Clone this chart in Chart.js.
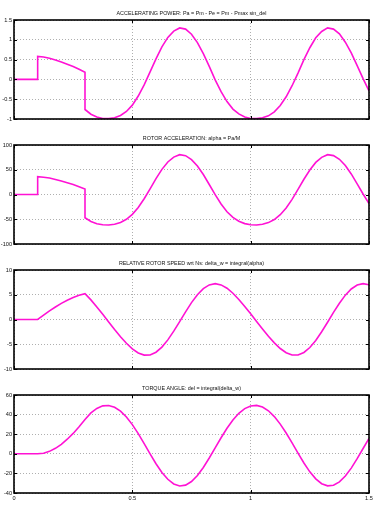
<!DOCTYPE html>
<html><head><meta charset="utf-8">
<script src="https://cdn.jsdelivr.net/npm/chart.js@4.4.1/dist/chart.umd.min.js"></script>
<style>
html,body{margin:0;padding:0;background:#fff;overflow:hidden;}
#wrap{position:relative;width:379px;height:516px;background:#fff;}
.p{position:absolute;left:0;width:379px;}
canvas{display:block;}
</style></head><body>
<div id="wrap">
<div class="p" style="top:0px;height:125px"><canvas id="c0" width="379" height="125"></canvas></div>
<div class="p" style="top:125px;height:125px"><canvas id="c1" width="379" height="125"></canvas></div>
<div class="p" style="top:250px;height:125px"><canvas id="c2" width="379" height="125"></canvas></div>
<div class="p" style="top:375px;height:141px"><canvas id="c3" width="379" height="141"></canvas></div>
</div>
<script>
// time samples (s); 0.1 and 0.3 repeated for the fault-on / fault-clear steps
const time = [0, 0.1, 0.1, 0.125, 0.15, 0.175, 0.2, 0.225, 0.25, 0.275, 0.3, 0.3,
  0.325, 0.35, 0.375, 0.4, 0.425, 0.45, 0.475, 0.5, 0.525, 0.55, 0.575, 0.6,
  0.625, 0.65, 0.675, 0.7, 0.725, 0.75, 0.775, 0.8, 0.825, 0.85, 0.875, 0.9,
  0.925, 0.95, 0.975, 1.0, 1.025, 1.05, 1.075, 1.1, 1.125, 1.15, 1.175, 1.2,
  1.225, 1.25, 1.275, 1.3, 1.325, 1.35, 1.375, 1.4, 1.425, 1.45, 1.475, 1.5];

const accelPower = [0, 0, 0.58, 0.565, 0.535, 0.49, 0.44, 0.385, 0.325, 0.255, 0.18, -0.76,
  -0.88, -0.95, -0.99, -0.99, -0.97, -0.91, -0.81, -0.65, -0.42, -0.14, 0.19, 0.52,
  0.82, 1.06, 1.22, 1.30, 1.27, 1.14, 0.93, 0.65, 0.33, -0.01, -0.31, -0.56,
  -0.75, -0.87, -0.95, -0.99, -0.99, -0.97, -0.92, -0.82, -0.66, -0.44, -0.16, 0.16,
  0.50, 0.80, 1.05, 1.21, 1.30, 1.27, 1.15, 0.94, 0.67, 0.35, 0.02, -0.29];

const rotorAccel = [0, 0, 36.0, 35.0, 33.2, 30.4, 27.3, 23.9, 20.2, 15.8, 11.2, -47.0,
  -54.5, -59.0, -61.2, -61.5, -60.0, -56.4, -50.1, -40.1, -26.2, -8.6, 11.5, 32.1,
  50.8, 65.7, 75.5, 80.5, 78.5, 70.5, 57.6, 40.3, 20.2, -0.3, -19.2, -34.8,
  -46.3, -54.1, -58.8, -61.1, -61.5, -60.2, -56.8, -50.6, -40.9, -27.2, -9.8, 10.2,
  30.8, 49.6, 64.8, 75.0, 80.5, 78.6, 71.1, 58.6, 41.5, 21.6, 1.0, -18.1];

const rotorSpeed = [0, 0, 0, 0.89, 1.74, 2.53, 3.26, 3.89, 4.44, 4.89, 5.23, 5.23,
  3.96, 2.54, 1.04, -0.50, -2.02, -3.47, -4.80, -5.93, -6.76, -7.19, -7.16, -6.61,
  -5.57, -4.12, -2.36, -0.42, 1.55, 3.41, 5.01, 6.23, 6.99, 7.24, 6.99, 6.32,
  5.31, 4.05, 2.64, 1.14, -0.40, -1.92, -3.38, -4.72, -5.86, -6.71, -7.18, -7.17,
  -6.66, -5.66, -4.23, -2.48, -0.55, 1.43, 3.29, 4.92, 6.17, 6.95, 7.24, 7.02];

const torqueAngle = [0, 0, 0, 0.6, 2.5, 5.6, 9.7, 14.9, 20.8, 27.5, 35.0, 35.0,
  41.7, 46.3, 48.9, 49.3, 47.5, 43.5, 37.6, 29.8, 20.6, 10.4, 0.0, -10.1,
  -19.0, -26.0, -30.8, -32.8, -32.0, -28.3, -22.2, -14.0, -4.3, 6.0, 16.4, 26.1,
  34.5, 41.3, 46.1, 48.8, 49.4, 47.7, 43.9, 38.0, 30.3, 21.2, 11.1, 0.7,
  -9.4, -18.4, -25.6, -30.5, -32.7, -32.1, -28.7, -22.7, -14.6, -5.0, 5.4, 15.7];

const xTicks = [0, 0.5, 1, 1.5];
const yTicksPower = [-1, -0.5, 0, 0.5, 1, 1.5];
const yTicksAccel = [-100, -50, 0, 50, 100];
const yTicksSpeed = [-10, -5, 0, 5, 10];
const yTicksAngle = [-40, -20, 0, 20, 40, 60];

const titles = [
  'ACCELERATING POWER: Pa = Pm - Pe = Pm - Pmax sin_del',
  'ROTOR ACCELERATION: alpha = Pa/M',
  'RELATIVE ROTOR SPEED wrt Ns: delta_w = integral(alpha)',
  'TORQUE ANGLE: del = integral(delta_w)'
];

const FONT = "'Liberation Sans', Arial, Helvetica, sans-serif";
const LINE_COLOR = '#ff12d4';
const TEXT_COLOR = '#111111';

const boxPlugin = {
  id: 'box',
  afterDraw(chart) {
    const ctx = chart.ctx, a = chart.chartArea;
    const xs = chart.scales.x, ys = chart.scales.y;
    ctx.save();
    ctx.strokeStyle = '#000';
    ctx.lineWidth = 1;
    const L = 3;
    ctx.beginPath();
    xs.ticks.forEach(t => {
      const px = Math.round(xs.getPixelForValue(t.value)) + 0.5;
      ctx.moveTo(px, a.top); ctx.lineTo(px, a.top + L);
      ctx.moveTo(px, a.bottom); ctx.lineTo(px, a.bottom - L);
    });
    ys.ticks.forEach(t => {
      const py = Math.round(ys.getPixelForValue(t.value)) + 0.5;
      ctx.moveTo(a.left, py); ctx.lineTo(a.left + L, py);
      ctx.moveTo(a.right, py); ctx.lineTo(a.right - L, py);
    });
    ctx.stroke();
    ctx.lineWidth = 1.6;
    ctx.strokeRect(a.left, a.top, a.right - a.left, a.bottom - a.top);
    ctx.restore();
  }
};

function makeChart(id, title, values, yTicks, showX) {
  const xH = showX ? 23 : 6;
  return new Chart(document.getElementById(id), {
    type: 'line',
    data: {
      datasets: [{
        data: time.map((t, i) => ({ x: t, y: values[i] })),
        borderColor: LINE_COLOR,
        borderWidth: 1.6,
        pointRadius: 0,
        tension: 0,
        fill: false
      }]
    },
    options: {
      responsive: false,
      animation: false,
      devicePixelRatio: 1,
      layout: { padding: { left: 0, right: 10, top: 0, bottom: 0 } },
      plugins: {
        legend: { display: false },
        tooltip: { enabled: false },
        title: {
          display: true, text: title, fullSize: false, color: TEXT_COLOR,
          font: { family: FONT, size: 5.4, weight: 'normal' },
          padding: { top: 10.5, bottom: 3.02 }
        }
      },
      scales: {
        x: {
          type: 'linear', min: xTicks[0], max: xTicks[xTicks.length - 1],
          afterBuildTicks: s => { s.ticks = xTicks.map(v => ({ value: v })); },
          afterFit: s => { s.height = xH; },
          grid: { color: '#9a9a9a', lineWidth: 0.8, drawTicks: false },
          border: { display: false, dash: [1, 2] },
          ticks: { display: showX, padding: 2, color: TEXT_COLOR, maxRotation: 0, autoSkip: false,
                   font: { family: FONT, size: 5.6 }, callback: v => String(v) }
        },
        y: {
          min: yTicks[0], max: yTicks[yTicks.length - 1],
          afterBuildTicks: s => { s.ticks = yTicks.map(v => ({ value: v })); },
          afterFit: s => { s.width = 14; },
          grid: { color: '#9a9a9a', lineWidth: 0.8, drawTicks: false },
          border: { display: false, dash: [1, 2] },
          ticks: { padding: 2, color: TEXT_COLOR, font: { family: FONT, size: 5.6 },
                   callback: v => String(v) }
        }
      }
    },
    plugins: [boxPlugin]
  });
}

makeChart('c0', titles[0], accelPower, yTicksPower, false);
makeChart('c1', titles[1], rotorAccel, yTicksAccel, false);
makeChart('c2', titles[2], rotorSpeed, yTicksSpeed, false);
makeChart('c3', titles[3], torqueAngle, yTicksAngle, true);
</script>
</body></html>
